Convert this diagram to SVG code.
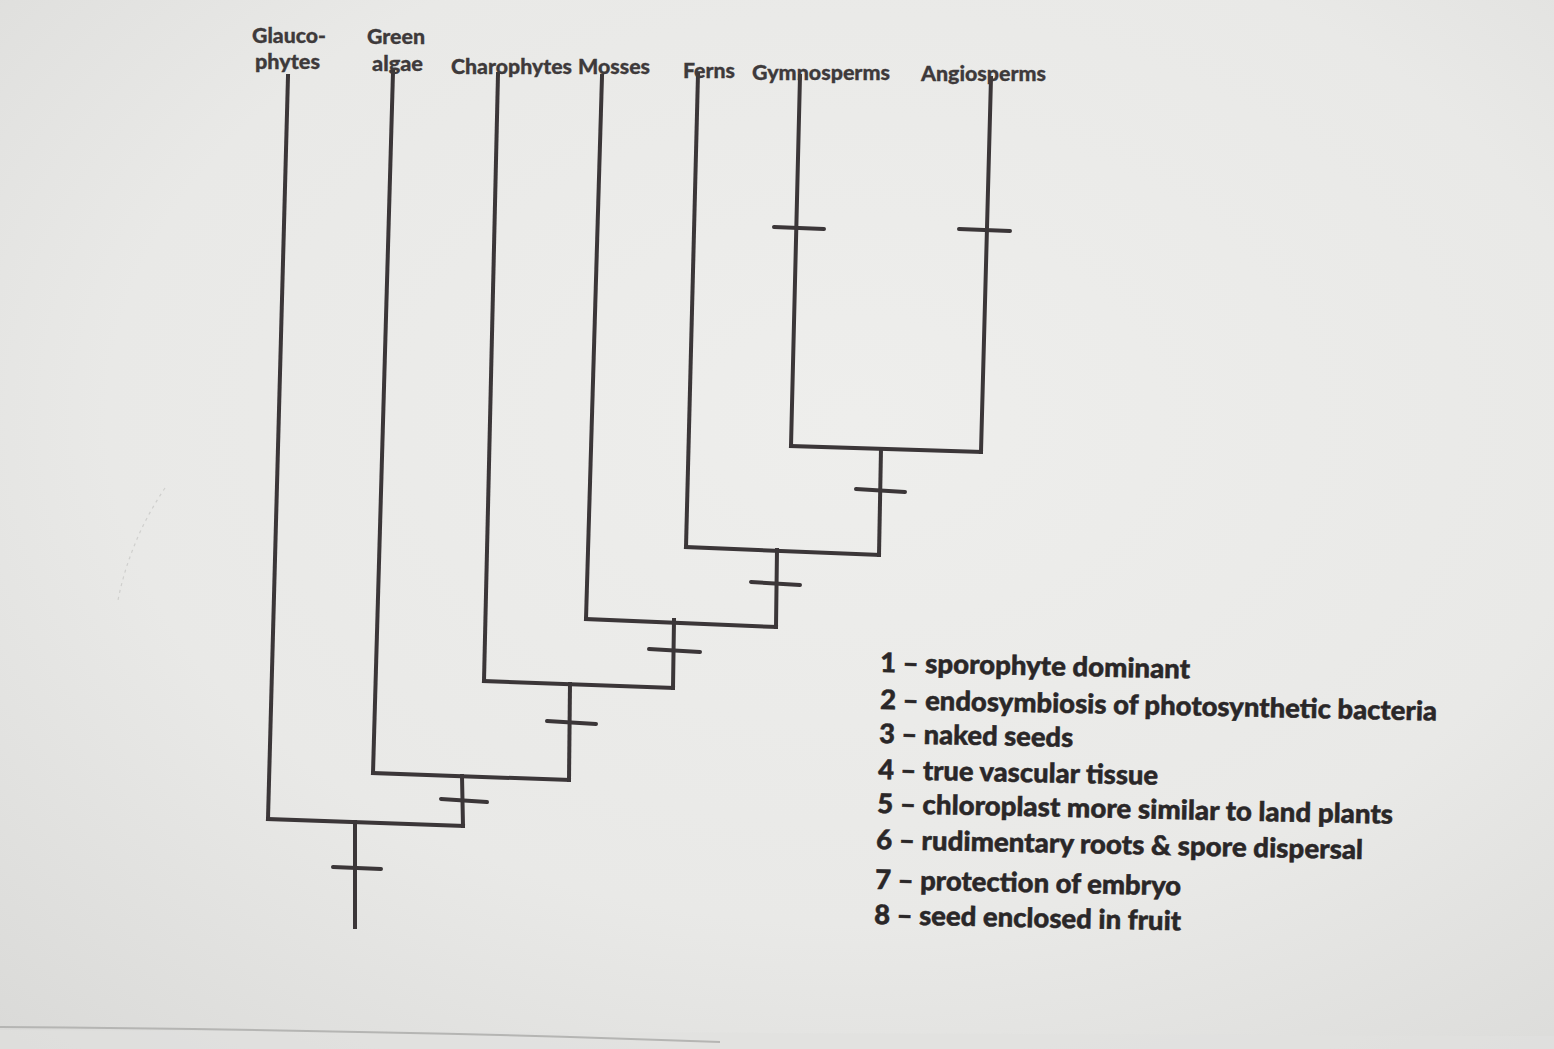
<svg xmlns="http://www.w3.org/2000/svg" width="1554" height="1049" viewBox="0 0 1554 1049">
<defs>
<radialGradient id="bg" cx="0.55" cy="0.4" r="0.8">
<stop offset="0" stop-color="#eeeeec"/>
<stop offset="0.6" stop-color="#e9e9e7"/>
<stop offset="1" stop-color="#dadad8"/>
</radialGradient>
<style>
.ln{fill:none;stroke:#3b3638;stroke-width:4;stroke-linecap:square;stroke-linejoin:round}
.tk{fill:none;stroke:#3b3638;stroke-width:4;stroke-linecap:round}
.lab{font-family:Lato,"Open Sans","Liberation Sans",sans-serif;font-weight:900;font-size:20px;fill:#3e3a3b;stroke:#3e3a3b;stroke-width:0.3}
.leg{font-family:Lato,"Open Sans","Liberation Sans",sans-serif;font-weight:900;font-size:27px;fill:#2a2728;stroke:#2a2728;stroke-width:0.5}
</style>
</defs>
<rect x="0" y="0" width="1554" height="1049" fill="url(#bg)"/>
<path d="M0,1030 L1554,1036 L1554,1049 L0,1049 Z" fill="#e1e1df" opacity="0.6"/>
<path d="M0,1027 Q400,1030 720,1042" fill="none" stroke="#b5b5b3" stroke-width="2"/>
<path d="M165,488 Q130,540 118,600" fill="none" stroke="#cfcfcd" stroke-width="1.2" stroke-dasharray="3 4"/>

<g id="connectors">
<path class="ln" d="M268,819 L463,826"/>
<path class="ln" d="M355,822 L355,927"/>
<path class="ln" d="M463,826 L462,776"/>
<path class="ln" d="M373,773 L569,780"/>
<path class="ln" d="M569,780 L570,684"/>
<path class="ln" d="M484,681 L673,688"/>
<path class="ln" d="M673,688 L674,620"/>
<path class="ln" d="M586,619 L776,627"/>
<path class="ln" d="M776,627 L777,550"/>
<path class="ln" d="M686,547 L879,555"/>
<path class="ln" d="M879,555 L881,449"/>
<path class="ln" d="M791,446 L981,452"/>
<path class="tk" d="M333,867 L381,869"/>
<path class="tk" d="M441,799 L487,802"/>
<path class="tk" d="M547,721 L596,724"/>
<path class="tk" d="M649,649 L700,652"/>
<path class="tk" d="M751,582 L800,585"/>
<path class="tk" d="M856,489 L905,492"/>
<path class="tk" d="M774,227 L824,229"/>
<path class="tk" d="M959,229 L1010,231"/>
</g>

<g id="glaucophytes">
<path class="ln" d="M288,76 L268,819"/>
<text class="lab" x="252" y="43" textLength="74" lengthAdjust="spacingAndGlyphs">Glauco-</text>
<text class="lab" x="255" y="69" textLength="65" lengthAdjust="spacingAndGlyphs">phytes</text>
</g>
<g id="green-algae">
<path class="ln" d="M393,72 L373,773"/>
<text class="lab" x="367" y="44" textLength="58" lengthAdjust="spacingAndGlyphs">Green</text>
<text class="lab" x="372" y="71" textLength="51" lengthAdjust="spacingAndGlyphs">algae</text>
</g>
<g id="charophytes">
<path class="ln" d="M498,74 L484,681"/>
<text class="lab" x="451" y="74" textLength="121" lengthAdjust="spacingAndGlyphs">Charophytes</text>
</g>
<g id="mosses">
<path class="ln" d="M602,76 L586,619"/>
<text class="lab" x="578" y="74" textLength="72" lengthAdjust="spacingAndGlyphs">Mosses</text>
</g>
<g id="ferns">
<path class="ln" d="M698,74 L686,547"/>
<text class="lab" x="683" y="78" textLength="52" lengthAdjust="spacingAndGlyphs">Ferns</text>
</g>
<g id="gymnosperms">
<path class="ln" d="M800,76 L791,446"/>
<text class="lab" x="752" y="80" textLength="138" lengthAdjust="spacingAndGlyphs">Gymnosperms</text>
</g>
<g id="angiosperms">
<path class="ln" d="M991,78 L981,452"/>
<text class="lab" x="921" y="81" textLength="125" lengthAdjust="spacingAndGlyphs">Angiosperms</text>
</g>

<g id="legend">
<text class="leg" x="880" y="672" textLength="310" lengthAdjust="spacingAndGlyphs" transform="rotate(1.2 880 672)">1 – sporophyte dominant</text>
<text class="leg" x="880" y="709" textLength="557" lengthAdjust="spacingAndGlyphs" transform="rotate(1.2 880 709)">2 – endosymbiosis of photosynthetic bacteria</text>
<text class="leg" x="879" y="743" textLength="194" lengthAdjust="spacingAndGlyphs" transform="rotate(1.2 879 743)">3 – naked seeds</text>
<text class="leg" x="878" y="779" textLength="280" lengthAdjust="spacingAndGlyphs" transform="rotate(1.2 878 779)">4 – true vascular tissue</text>
<text class="leg" x="877" y="813" textLength="516" lengthAdjust="spacingAndGlyphs" transform="rotate(1.2 877 813)">5 – chloroplast more similar to land plants</text>
<text class="leg" x="876" y="849" textLength="487" lengthAdjust="spacingAndGlyphs" transform="rotate(1.2 876 849)">6 – rudimentary roots &amp; spore dispersal</text>
<text class="leg" x="875" y="889" textLength="306" lengthAdjust="spacingAndGlyphs" transform="rotate(1.2 875 889)">7 – protection of embryo</text>
<text class="leg" x="874" y="924" textLength="307" lengthAdjust="spacingAndGlyphs" transform="rotate(1.2 874 924)">8 – seed enclosed in fruit</text>
</g>
</svg>
